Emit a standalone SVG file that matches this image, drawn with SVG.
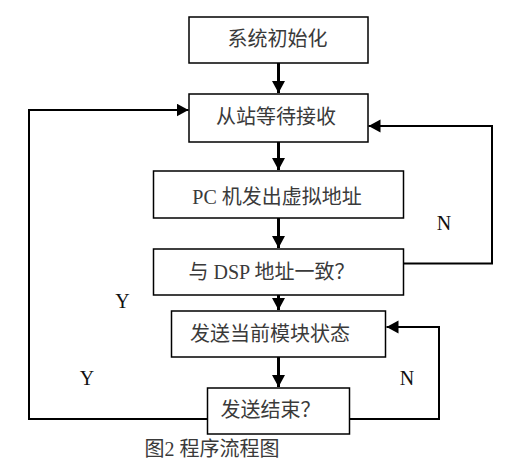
<svg xmlns="http://www.w3.org/2000/svg" width="511" height="469" viewBox="0 0 511 469">
<style>
.box{fill:#fff;stroke:#000;stroke-width:1.5}
.t{font-family:"Liberation Serif","Noto Sans CJK SC",serif;font-size:20px;fill:#3a3a3a;text-anchor:middle}
.lbl{font-family:"Liberation Serif",serif;font-size:20px;fill:#111;text-anchor:middle}
.down{fill:none;stroke:#000;stroke-width:3}
.loop{fill:none;stroke:#000;stroke-width:2}
</style>
<defs>
<marker id="ah" markerUnits="userSpaceOnUse" markerWidth="13" markerHeight="14" refX="12" refY="6.5" orient="auto">
<path d="M0,0 L12,6.5 L0,13 z" fill="#000"/>
</marker>
</defs>
<rect width="511" height="469" fill="#fff"/>
<g id="connectors">
<path class="down" d="M278.5,63 V93" marker-end="url(#ah)"/>
<path class="down" d="M278.5,142 V170" marker-end="url(#ah)"/>
<path class="down" d="M278.5,218 V248" marker-end="url(#ah)"/>
<path class="down" d="M278.5,295 V310" marker-end="url(#ah)"/>
<path class="down" d="M278.5,357 V387" marker-end="url(#ah)"/>
<path class="loop" d="M207,419 H29 V110 H188.5" marker-end="url(#ah)"/>
<path class="loop" d="M404,263.5 H492 V126 H368.5" marker-end="url(#ah)"/>
<path class="loop" d="M350,419 H439 V327 H386.5" marker-end="url(#ah)"/>
<text class="lbl" x="444" y="230">N</text>
<text class="lbl" x="122.5" y="308">Y</text>
<text class="lbl" x="87" y="385">Y</text>
<text class="lbl" x="407" y="385">N</text>
</g>
<g id="n1"><rect class="box" x="189" y="17" width="179" height="46"/><text class="t" x="277.5" y="46">系统初始化</text></g>
<g id="n2"><rect class="box" x="189" y="94" width="179" height="48"/><text class="t" x="276" y="124">从站等待接收</text></g>
<g id="n3"><rect class="box" x="153.5" y="171" width="250" height="47"/><text class="t" x="277" y="203.5">PC 机发出虚拟地址</text></g>
<g id="n4"><rect class="box" x="153.5" y="249" width="250" height="46"/><text class="t" x="271.5" y="278.5">与 DSP 地址一致？</text></g>
<g id="n5"><rect class="box" x="171.5" y="311" width="214" height="46"/><text class="t" x="270" y="340.5">发送当前模块状态</text></g>
<g id="n6"><rect class="box" x="207.5" y="388" width="142" height="46"/><text class="t" x="270.5" y="417">发送结束？</text></g>
<g id="caption"><text class="t" x="212" y="455.5">图2  程序流程图</text></g>
</svg>
